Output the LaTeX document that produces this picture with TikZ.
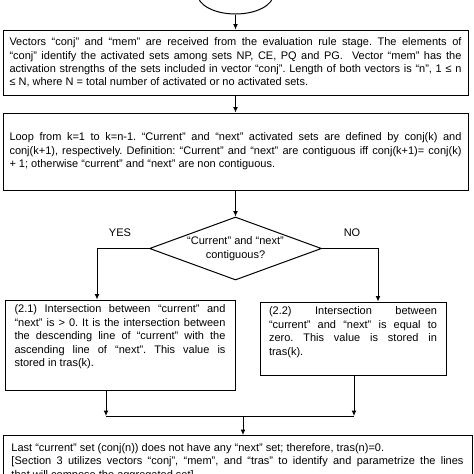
\documentclass[tikz,border=0pt]{standalone}
\usepackage{fontspec}
\setmainfont{Liberation Sans}
\usetikzlibrary{shapes.geometric,arrows.meta}
\frenchspacing
\begin{document}
\begin{tikzpicture}[x=1pt,y=-1pt,
  every node/.style={font=\fontsize{11}{13.4}\selectfont},
  boxw/.style={draw, line width=1pt, rectangle, inner sep=0pt},
  arr/.style={line width=1pt, -{Latex[length=5.5pt,width=5pt]}},
  con/.style={line width=1pt}]
\useasboundingbox (0,0) rectangle (474,474);
\clip (0,0) rectangle (474,474);
% start terminal
\node[draw, line width=1pt, ellipse, minimum width=76pt, minimum height=40pt, inner sep=0pt] (start) at (235.5,-6) {};
% box 1
\node[boxw, minimum width=465pt, minimum height=65pt, text width=452pt, align=justify] (b1) at (235.5,62.5)
{\hyphenpenalty=10000\tolerance=10000 Vectors “conj” and “mem” are received from the evaluation rule stage. The elements of\linebreak “conj” identify the activated sets among sets NP, CE, PQ and PG.\ \ Vector “mem” has the\linebreak activation strengths of the sets included in vector “conj”. Length of both vectors is “n”, 1 ≤ n\linebreak ≤ N, where N = total number of activated or no activated sets.};
% box 2
\node[boxw, minimum width=465pt, minimum height=77pt, text width=452pt, align=justify] (b2) at (235.5,151.5)
{\hyphenpenalty=10000\tolerance=10000 Loop from k=1 to k=n-1. “Current” and “next” activated sets are defined by conj(k) and\linebreak conj(k+1), respectively. Definition: “Current” and “next” are contiguous iff conj(k+1)= conj(k)\linebreak + 1; otherwise “current” and “next” are non contiguous.};
% decision
\node[draw, line width=1pt, diamond, aspect=2.73, inner sep=0pt, minimum width=172pt, minimum height=63pt, align=center] (dia) at (235.5,248.5)
{“Current” and “next”\\contiguous?};
\node (yes) at (120,233) {YES};
\node (no) at (352,233) {NO};
% box 2.1
\node[boxw, inner xsep=9.5pt, inner ysep=5pt] (b21) at (120,345)
{\parbox[c][80pt][t]{211pt}{\hyphenpenalty=10000\tolerance=10000 (2.1) Intersection between “current” and\linebreak “next” is > 0. It is the intersection between\linebreak the descending line of “current” with the\linebreak ascending line of “next”. This value is\linebreak stored in tras(k).}};
% box 2.2
\node[boxw, inner xsep=9pt, inner ysep=5pt] (b22) at (353,338.5)
{\parbox[c][63pt][t]{168pt}{\hyphenpenalty=10000\tolerance=10000 (2.2) Intersection between\linebreak “current” and “next” is equal to\linebreak zero. This value is stored in\linebreak tras(k).}};
% box 3
\node[boxw, inner xsep=8.5pt, inner ysep=8pt, anchor=north] (b3) at (237.5,435)
{\parbox[c][60pt][t]{452pt}{\hyphenpenalty=10000\tolerance=10000 Last “current” set (conj(n)) does not have any “next” set; therefore, tras(n)=0.\par
[Section 3 utilizes vectors “conj”, “mem”, and “tras” to identify and parametrize the lines\linebreak that will compose the aggregated set]}};
% connectors
\draw[arr] (start.south) -- (b1.north);
\draw[arr] (b1.south) -- (b2.north);
\draw[arr] (b2.south) -- (dia.north);
\coordinate (lx) at (97,0);
\coordinate (rx) at (378,0);
\draw[arr] (dia.west) -| (lx |- b21.north);
\draw[arr] (dia.east) -| (rx |- b22.north);
\coordinate (mL) at (106,416);
\coordinate (mR) at (354,416);
\coordinate (mC) at (243,416);
\draw[arr] (mL |- b21.south) -- (mL);
\draw[arr] (mR |- b22.south) -- (mR);
\draw[con] (mL) -- (mR);
\draw[arr] (mC) -- (mC |- b3.north);
\end{tikzpicture}
\end{document}
